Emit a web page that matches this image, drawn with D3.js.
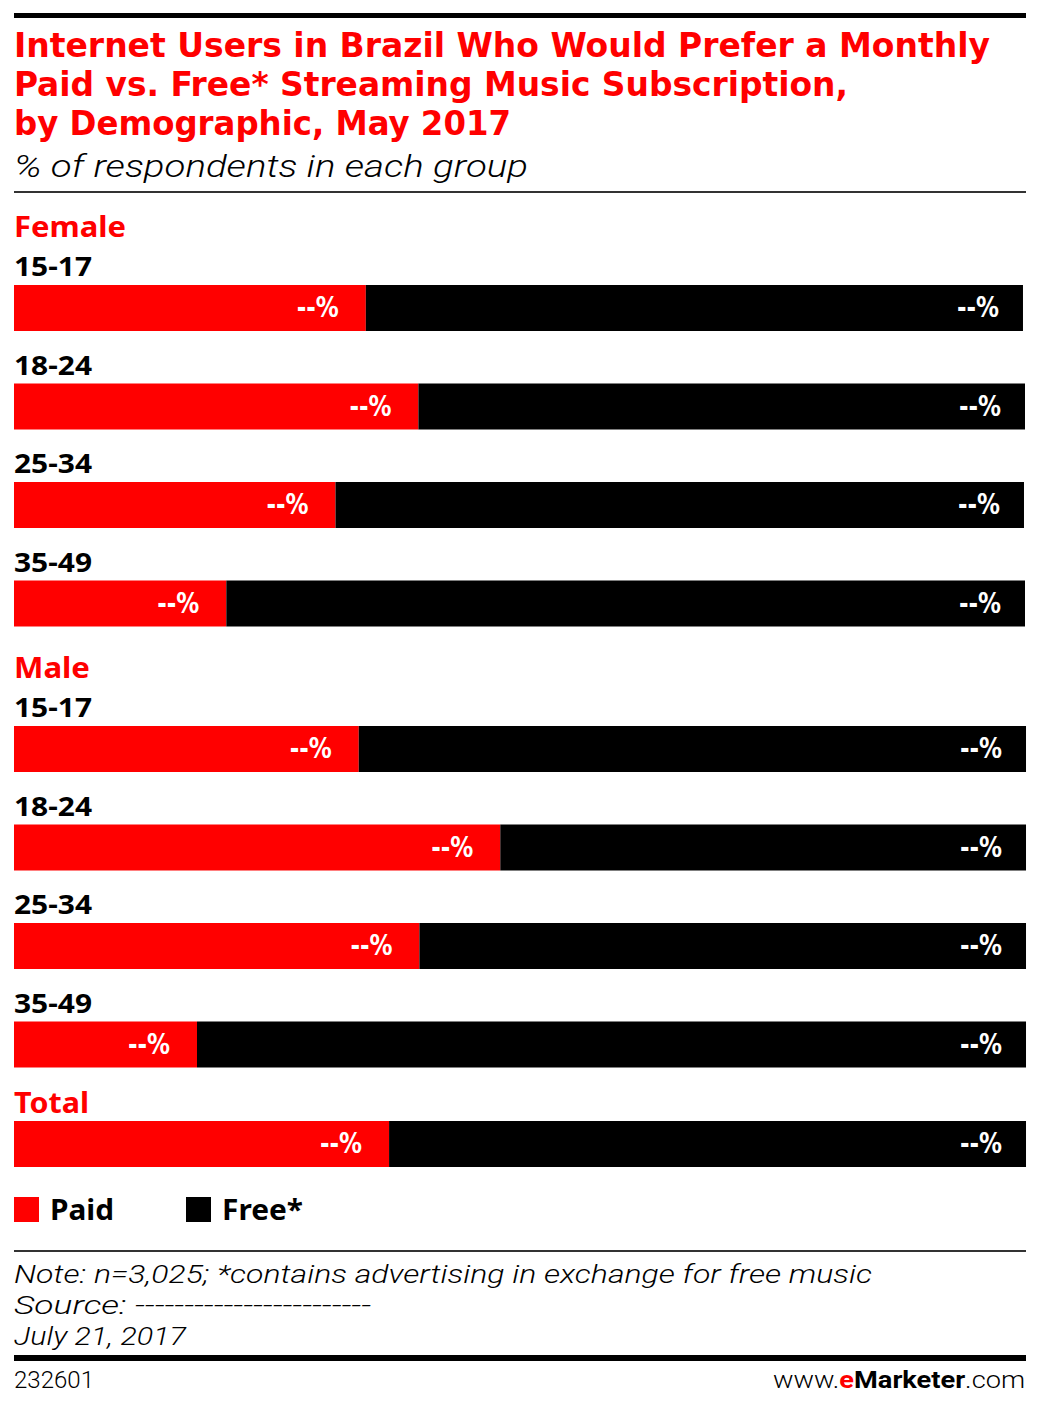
<!DOCTYPE html>
<html><head><meta charset="utf-8">
<script src="https://cdn.jsdelivr.net/npm/d3@7"></script>
<style>body{margin:0;background:#fff}</style>
</head><body>
<script>
const groups = ["Female", "Male", "Total"];
const categories = ["15-17", "18-24", "25-34", "35-49", "15-17", "18-24", "25-34", "35-49", "Total"];
const categoryGroup = ["Female", "Female", "Female", "Female", "Male", "Male", "Male", "Male", "Total"];
const paid = [34.8, 40.0, 31.8, 21.0, 34.1, 48.1, 40.1, 18.1, 37.1];
const free = [65.0, 60.0, 68.1, 79.0, 66.0, 52.0, 60.0, 82.0, 63.0];
const valueLabels = ["--%", "--%", "--%", "--%", "--%", "--%", "--%", "--%", "--%"];
const seriesNames = ["Paid", "Free*"];
const seriesColors = ["#ff0000", "#000000"];
const titleLines = ["Internet Users in Brazil Who Would Prefer a Monthly", "Paid vs. Free* Streaming Music Subscription,", "by Demographic, May 2017"];
const subtitle = "% of respondents in each group";
const noteLines = ["Note: n=3,025; *contains advertising in exchange for free music", "Source: ------------------------", "July 21, 2017"];

const W = 1039, H = 1407;
const svg = d3.select("body").append("svg").attr("width", W).attr("height", H);
const L = 14, R = 1025;
const condensed = "'DejaVu Sans Condensed','DejaVu Sans',sans-serif";
const bold = "'Noto Sans','Open Sans',sans-serif";
const light = "'Roboto','Liberation Sans',sans-serif";

function fit(sel, w){ sel.attr("textLength", w).attr("lengthAdjust","spacingAndGlyphs"); return sel; }

// top rule
svg.append("rect").attr("x", L).attr("y", 13).attr("width", R-L+1).attr("height", 5).attr("fill", "#000");
const titleW = [976, 834, 497];
titleLines.forEach((t,i)=>{
  fit(svg.append("text").attr("x", L).attr("y", 57 + i*39).attr("fill", "#ff0000")
    .attr("font-family", condensed).attr("font-weight", "bold").attr("font-size", 33).text(t), titleW[i]);
});
fit(svg.append("text").attr("x", L).attr("y", 177).attr("fill", "#000").attr("font-family", light)
  .attr("font-style", "italic").attr("font-weight", 300).attr("font-size", 32).text(subtitle), 514);
svg.append("rect").attr("x", L).attr("y", 191).attr("width", R-L+1).attr("height", 2).attr("fill", "#333");

// layout
const x = d3.scaleLinear().domain([0, 100]).range([L, R]);
const rowStart = {Female: 285, Male: 726, Total: 1121};
const groupLabelY = {Female: 237, Male: 678, Total: 1113};
const pitch = 98.5, barH = 46;
const groupW = {Female: 112, Male: 76, Total: 75};
groups.forEach(g=>{
  fit(svg.append("text").attr("x", L).attr("y", groupLabelY[g]).attr("fill", "#ff0000")
    .attr("font-family", bold).attr("font-weight", "bold").attr("font-size", 29).text(g), groupW[g]);
});
const idxInGroup = categories.map((c,i)=> categoryGroup.slice(0,i).filter(g=>g===categoryGroup[i]).length);
const barY = categories.map((c,i)=> rowStart[categoryGroup[i]] + idxInGroup[i]*pitch);

categories.forEach((c,i)=>{
  if (categoryGroup[i] !== "Total") {
    fit(svg.append("text").attr("x", L).attr("y", barY[i]-9).attr("fill", "#000")
      .attr("font-family", bold).attr("font-weight", "bold").attr("font-size", 27).text(c), 78);
  }
});

const rows = svg.append("g");
categories.forEach((c,i)=>{
  const p0 = 0, p1 = paid[i], f1 = paid[i] + free[i];
  rows.append("rect").attr("x", x(p0)).attr("y", barY[i]).attr("width", x(p1)-x(p0)).attr("height", barH).attr("fill", seriesColors[0]);
  rows.append("rect").attr("x", x(p1)).attr("y", barY[i]).attr("width", x(f1)-x(p1)).attr("height", barH).attr("fill", seriesColors[1]);
  fit(rows.append("text").attr("x", x(p1)-69).attr("y", barY[i]+32).attr("fill","#fff")
    .attr("font-family", condensed).attr("font-weight","bold").attr("font-size", 28).text(valueLabels[i]), 42);
  fit(rows.append("text").attr("x", x(f1)-66).attr("y", barY[i]+32).attr("fill","#fff")
    .attr("font-family", condensed).attr("font-weight","bold").attr("font-size", 28).text(valueLabels[i]), 42);
});

// legend
const legX = [14, 186];
const legW = [64, 81];
seriesNames.forEach((s,i)=>{
  svg.append("rect").attr("x", legX[i]).attr("y", 1197).attr("width", 25).attr("height", 25).attr("fill", seriesColors[i]);
  fit(svg.append("text").attr("x", legX[i]+36).attr("y", 1220).attr("fill", "#000").attr("font-family", bold)
    .attr("font-weight","bold").attr("font-size", 28).text(s), legW[i]);
});

// footer
svg.append("rect").attr("x", L).attr("y", 1250).attr("width", R-L+1).attr("height", 2).attr("fill", "#333");
const noteW = [858, 357, 172];
noteLines.forEach((t,i)=>{
  fit(svg.append("text").attr("x", L).attr("y", 1283 + i*31).attr("fill", "#000").attr("font-family", light)
    .attr("font-style","italic").attr("font-weight",300).attr("font-size", 26).text(t), noteW[i]);
});
svg.append("rect").attr("x", L).attr("y", 1355).attr("width", R-L+1).attr("height", 6).attr("fill", "#000");
fit(svg.append("text").attr("x", L).attr("y", 1388).attr("fill", "#000").attr("font-family", light)
  .attr("font-weight", 300).attr("font-size", 23).text("232601"), 80);
const site = svg.append("text").attr("x", R).attr("y", 1388).attr("text-anchor","end").attr("fill","#000")
  .attr("font-family", light).attr("font-weight", 300).attr("font-size", 23);
site.append("tspan").text("www.");
site.append("tspan").attr("fill","#ff0000").attr("font-weight","bold").text("e");
site.append("tspan").attr("font-weight","bold").text("Marketer");
site.append("tspan").text(".com");
fit(site, 252);
</script>
</body></html>
